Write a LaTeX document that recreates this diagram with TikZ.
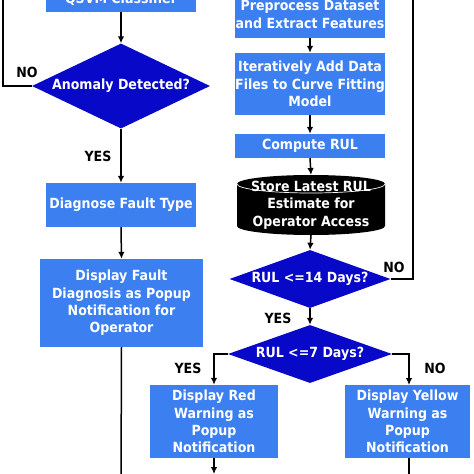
\documentclass[tikz,border=0pt]{standalone}
\usepackage{fontspec}
\usetikzlibrary{shapes.geometric,arrows.meta}
\newfontfamily\vfont[FakeStretch=0.9]{DejaVu Sans Bold}
\definecolor{boxblue}{RGB}{60,127,240}
\definecolor{diablue}{RGB}{8,8,200}
\tikzset{
  procbox/.style={rectangle, fill=boxblue, text=white, align=center, inner sep=0pt,
    font=\vfont\fontsize{14}{17.3}\selectfont},
  decision/.style={diamond, fill=diablue, text=white, align=center, inner sep=0pt,
    font=\vfont\fontsize{14}{17.3}\selectfont},
  lbl/.style={text=black, inner sep=0pt, font=\vfont\fontsize{14}{17.3}\selectfont},
  conn/.style={line width=1.5pt, draw=black},
  arr/.style={conn, -{Latex[length=7pt,width=6.5pt]}}
}
\begin{document}
\begin{tikzpicture}[x=1pt,y=-1pt]
\useasboundingbox (0,0) rectangle (474,474);
\fill[white] (0,0) rectangle (474,474);
% left column
\node[procbox, minimum width=150pt, minimum height=26pt] (qsvm) at (121,-1) {QSVM Classifier};
\node[decision, minimum width=178pt, minimum height=85pt, aspect=2.1] (d1) at (121,86) {Anomaly Detected?};
\node[procbox, minimum width=150pt, minimum height=44pt] (diag) at (121,205) {Diagnose Fault Type};
\node[procbox, minimum width=163pt, minimum height=88pt] (fault) at (121.5,303) {Display Fault\\Diagnosis as Popup\\Notification for\\Operator};
% right column
\node[procbox, minimum width=150pt, minimum height=47pt] (prep) at (310,14.5) {Preprocess Dataset\\and Extract Features};
\node[procbox, minimum width=150pt, minimum height=62pt] (iter) at (310,84) {Iteratively Add Data\\Files to Curve Fitting\\Model};
\node[procbox, minimum width=150pt, minimum height=24pt] (rul) at (310,146) {Compute RUL};
% cylinder
\fill[black] (237,184) .. controls (237,179) and (270.1,175) .. (311,175) .. controls (351.9,175) and (385,179) .. (385,184) -- (385,226) .. controls (385,231) and (351.9,235) .. (311,235) .. controls (270.1,235) and (237,231) .. (237,226) -- cycle;
\draw[white, line width=0.7pt] (237,184) .. controls (237,189) and (270.1,193) .. (311,193) .. controls (351.9,193) and (385,189) .. (385,184);
\node[procbox, fill=none, minimum width=148pt, minimum height=60pt] (store) at (311,205) {Store Latest RUL\\Estimate for\\Operator Access};
\node[decision, minimum width=161pt, minimum height=58pt, aspect=2.8] (d14) at (310,279) {RUL <=14 Days?};
\node[decision, minimum width=164pt, minimum height=58pt, aspect=2.8] (d7) at (310,354) {RUL <=7 Days?};
\node[procbox, minimum width=128pt, minimum height=73pt] (red) at (214,421.5) {Display Red\\Warning as\\Popup\\Notification};
\node[procbox, minimum width=125pt, minimum height=73pt] (yel) at (407.5,421.5) {Display Yellow\\Warning as\\Popup\\Notification};
% free ends
\coordinate (noTopL) at (3,-5);
\coordinate (noTopR) at (413,-5);
\coordinate (faultEnd) at (121,480);
\coordinate (redEnd) at (214,474);
\coordinate (yelEnd) at (409,480);
% connectors
\draw[arr] (qsvm.south) -- (d1.north);
\draw[conn] (d1.west) -| (noTopL);
\draw[arr] (d1.south) -- (diag.north);
\draw[arr] (diag.south) -- (fault.north);
\draw[conn] (fault.south) -- (faultEnd);
\draw[arr] (prep.south) -- (iter.north);
\draw[arr] (iter.south) -- (rul.north);
\draw[arr] (rul.south) -- (311,175);
\draw[arr] (311,235) -- (d14.north);
\draw[conn] (d14.east) -| (noTopR);
\draw[arr] (d14.south) -- (d7.north);
\draw[arr] (d7.west) -| (red.north);
\draw[arr] (d7.east) -| (409,385);
\draw[arr] (red.south) -- (redEnd);
\draw[conn] (409,458) -- (yelEnd);
% labels
\node[lbl] (l1) at (27,72) {NO};
\node[lbl] (l2) at (98,156) {YES};
\node[lbl] (l3) at (394,267) {NO};
\node[lbl] (l4) at (278,318) {YES};
\node[lbl] (l5) at (188,368) {YES};
\node[lbl] (l6) at (435,368) {NO};
\end{tikzpicture}
\end{document}
